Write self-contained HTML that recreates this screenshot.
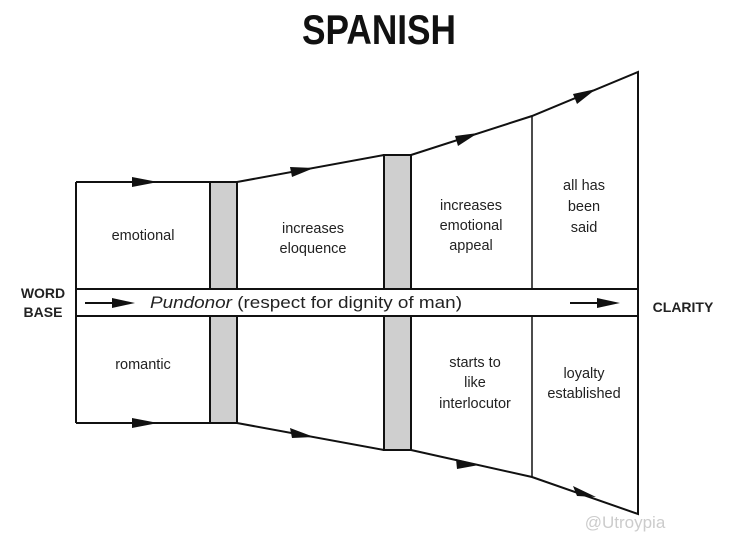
<!DOCTYPE html>
<html><head><meta charset="utf-8"><style>
html,body{margin:0;padding:0;background:#fff;}
svg{display:block;}
text{font-family:"Liberation Sans",sans-serif;fill:#222;}
</style></head><body>
<svg width="732" height="544" viewBox="0 0 732 544" xmlns="http://www.w3.org/2000/svg">
<text x="379" y="44" text-anchor="middle" font-size="42" font-weight="bold" textLength="154" lengthAdjust="spacingAndGlyphs" style="fill:#111">SPANISH</text>
<g stroke="#111" stroke-width="2" fill="none">
<rect x="210" y="182" width="27" height="241" fill="#cfcfcf"/>
<rect x="384" y="155" width="27" height="295" fill="#cfcfcf"/>
<path d="M76,182 L210,182 M76,423 L210,423 M76,182 L76,423"/>
<path d="M237,182 L384,155 M237,423 L384,450"/>
<path d="M411,155 L532,116 L638,72 L638,514 L532,477 L411,450"/>
<line x1="532" y1="116" x2="532" y2="477" stroke-width="1.5"/>
<rect x="76" y="289" width="562" height="27" fill="#fff"/>
</g>
<g fill="#111">
<polygon points="132,177 158,182 132,187"/>
<polygon points="132,418 158,423 132,428"/>
<polygon points="290,167 314,168 292,177"/>
<polygon points="290,428 314,437 292,438"/>
<polygon points="455,136 478,133 458,146"/>
<polygon points="456,459 479,465 457,469"/>
<polygon points="573,94 596,89 577,104"/>
<polygon points="573,486 596,497 577,496"/>
<polygon points="112,298 135,303 112,308"/>
<polygon points="597,298 620,303 597,308"/>
</g>
<g stroke="#111" stroke-width="2"><line x1="85" y1="303" x2="115" y2="303"/><line x1="570" y1="303" x2="600" y2="303"/></g>
<text x="150" y="308" font-size="17" textLength="312" lengthAdjust="spacingAndGlyphs" style="fill:#222"><tspan font-style="italic">Pundonor</tspan>  (respect for dignity of man)</text>
<g font-size="14" font-weight="bold" style="fill:#111">
<text x="43" y="298" text-anchor="middle">WORD</text>
<text x="43" y="317" text-anchor="middle">BASE</text>
<text x="683" y="312" text-anchor="middle">CLARITY</text>
</g>
<g font-size="14.5" text-anchor="middle">
<text x="143" y="240">emotional</text>
<text x="143" y="369">romantic</text>
<text x="313" y="233">increases</text>
<text x="313" y="253">eloquence</text>
<text x="471" y="210">increases</text>
<text x="471" y="230">emotional</text>
<text x="471" y="250">appeal</text>
<text x="584" y="190">all has</text>
<text x="584" y="211">been</text>
<text x="584" y="232">said</text>
<text x="475" y="367">starts to</text>
<text x="475" y="387">like</text>
<text x="475" y="408">interlocutor</text>
<text x="584" y="378">loyalty</text>
<text x="584" y="398">established</text>
</g>
<text x="625" y="528" font-size="17" style="fill:#ccc" text-anchor="middle">@Utroypia</text>
</svg>
</body></html>
